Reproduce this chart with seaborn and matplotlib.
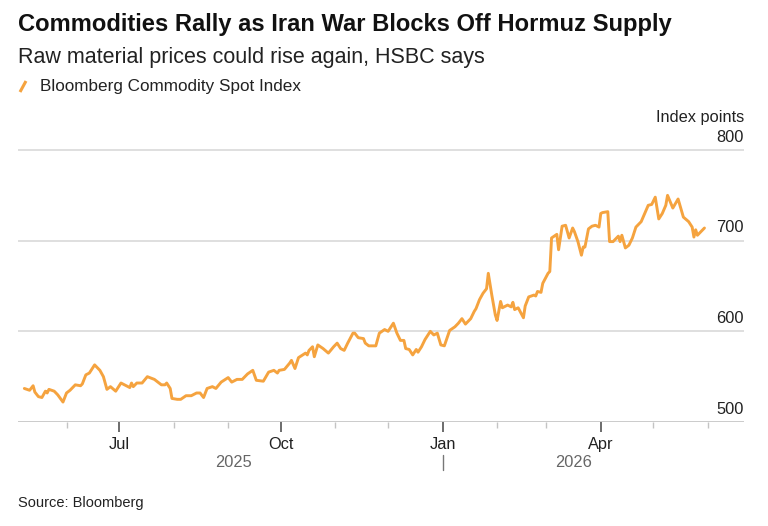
import pandas as pd
import numpy as np
import matplotlib.pyplot as plt
import matplotlib.dates as mdates
import matplotlib.transforms as mtransforms
from matplotlib.lines import Line2D
import seaborn as sns

# Bloomberg Commodity Spot Index
dates = [
    "2025-05-08", "2025-05-11", "2025-05-13", "2025-05-14", "2025-05-16", "2025-05-18", "2025-05-20",
    "2025-05-21", "2025-05-22", "2025-05-25", "2025-05-27", "2025-05-30", "2025-06-01", "2025-06-03",
    "2025-06-06", "2025-06-09", "2025-06-10", "2025-06-12", "2025-06-14", "2025-06-17", "2025-06-20",
    "2025-06-22", "2025-06-24", "2025-06-26", "2025-06-29", "2025-07-02", "2025-07-05", "2025-07-07",
    "2025-07-08", "2025-07-09", "2025-07-11", "2025-07-14", "2025-07-17", "2025-07-21", "2025-07-23",
    "2025-07-25", "2025-07-27", "2025-07-28", "2025-07-30", "2025-07-31", "2025-08-03", "2025-08-05",
    "2025-08-08", "2025-08-11", "2025-08-14", "2025-08-16", "2025-08-18", "2025-08-20", "2025-08-23",
    "2025-08-25", "2025-08-28", "2025-09-01", "2025-09-03", "2025-09-06", "2025-09-09", "2025-09-12",
    "2025-09-15", "2025-09-17", "2025-09-21", "2025-09-24", "2025-09-27", "2025-09-29", "2025-09-30",
    "2025-10-03", "2025-10-06", "2025-10-07", "2025-10-09", "2025-10-11", "2025-10-15", "2025-10-16",
    "2025-10-17", "2025-10-19", "2025-10-20", "2025-10-22", "2025-10-25", "2025-10-28", "2025-10-31",
    "2025-11-02", "2025-11-04", "2025-11-06", "2025-11-08", "2025-11-11", "2025-11-12", "2025-11-14",
    "2025-11-17", "2025-11-18", "2025-11-20", "2025-11-24", "2025-11-26", "2025-11-29", "2025-12-01",
    "2025-12-04", "2025-12-06", "2025-12-08", "2025-12-10", "2025-12-11", "2025-12-13", "2025-12-15",
    "2025-12-17", "2025-12-18", "2025-12-20", "2025-12-22", "2025-12-25", "2025-12-27", "2025-12-29",
    "2025-12-31", "2026-01-02", "2026-01-05", "2026-01-08", "2026-01-10", "2026-01-12", "2026-01-14",
    "2026-01-17", "2026-01-19", "2026-01-20", "2026-01-22", "2026-01-24", "2026-01-26", "2026-01-27",
    "2026-01-29", "2026-01-31", "2026-02-01", "2026-02-03", "2026-02-04", "2026-02-07", "2026-02-09",
    "2026-02-10", "2026-02-11", "2026-02-13", "2026-02-16", "2026-02-17", "2026-02-19", "2026-02-22",
    "2026-02-23", "2026-02-24", "2026-02-26", "2026-02-27", "2026-03-02", "2026-03-03", "2026-03-04",
    "2026-03-07", "2026-03-08", "2026-03-10", "2026-03-12", "2026-03-14", "2026-03-16", "2026-03-17",
    "2026-03-19", "2026-03-21", "2026-03-22", "2026-03-23", "2026-03-25", "2026-03-27", "2026-03-29",
    "2026-03-31", "2026-04-01", "2026-04-02", "2026-04-05", "2026-04-06", "2026-04-08", "2026-04-09",
    "2026-04-11", "2026-04-12", "2026-04-13", "2026-04-15", "2026-04-17", "2026-04-19", "2026-04-21",
    "2026-04-22", "2026-04-24", "2026-04-26", "2026-04-28", "2026-04-30", "2026-05-02", "2026-05-04",
    "2026-05-06", "2026-05-08", "2026-05-09", "2026-05-12", "2026-05-15", "2026-05-18", "2026-05-21",
    "2026-05-23", "2026-05-24", "2026-05-25", "2026-05-26", "2026-05-28", "2026-05-30",
]
index_values = [
    537, 535, 540, 533, 528, 527, 534, 532, 536, 534, 530, 522, 532, 535,
    541, 540, 542, 552, 554, 563, 557, 550, 536, 539, 534, 543, 540, 538,
    543, 539, 543, 543, 550, 547, 544, 541, 541, 543, 537, 526, 525, 525,
    529, 529, 532, 532, 527, 537, 539, 537, 544, 549, 544, 547, 547, 553,
    557, 546, 545, 555, 557, 554, 557, 558, 565, 568, 559, 571, 576, 574,
    579, 583, 572, 585, 581, 576, 583, 587, 581, 579, 587, 598, 598, 593,
    592, 587, 584, 584, 598, 602, 600, 609, 598, 590, 590, 581, 580, 574,
    580, 577, 583, 591, 600, 596, 598, 585, 584, 601, 605, 609, 614, 608,
    614, 622, 625, 635, 642, 647, 664, 640, 618, 612, 633, 626, 629, 627,
    632, 624, 626, 615, 628, 638, 640, 639, 644, 643, 653, 664, 666, 703,
    707, 690, 716, 717, 703, 714, 710, 699, 684, 693, 693, 713, 716, 717,
    715, 730, 731, 732, 699, 699, 701, 705, 699, 706, 692, 695, 703, 715,
    717, 721, 730, 739, 740, 748, 724, 730, 739, 750, 736, 746, 726, 721,
    715, 704, 712, 706, 710, 714,
]
y_ticks = [500, 600, 700, 800]
year_labels = ["2025", "2026"]

title = "Commodities Rally as Iran War Blocks Off Hormuz Supply"
subtitle = "Raw material prices could rise again, HSBC says"
series_name = "Bloomberg Commodity Spot Index"
source = "Source: Bloomberg"

ORANGE = "#F5A33F"
GRID = "#d6d6d6"

df = pd.DataFrame({"date": pd.to_datetime(dates), "value": index_values})

sns.set_theme(style="white")
plt.rcParams["font.family"] = ["Liberation Sans", "DejaVu Sans"]

W, H = 768, 526
fig = plt.figure(figsize=(W / 100, H / 100), dpi=100)
ax = fig.add_axes([18 / W, 1 - 422 / H, (744 - 18) / W, (422 - 145.5) / H])

sns.lineplot(data=df, x="date", y="value", color=ORANGE, linewidth=2.1, ax=ax, zorder=3)

ax.set_ylim(500, 805)
june1 = pd.Timestamp("2025-06-01")
ax.set_xlim(june1 - pd.Timedelta(days=27.6), june1 + pd.Timedelta(days=385.5))

for s in ax.spines.values():
    s.set_visible(False)
ax.set_xlabel("")
ax.set_ylabel("")
ax.set_yticks([])

# gridlines + labels sitting on top of them at the right edge
trans = mtransforms.blended_transform_factory(ax.transAxes, ax.transData)
for v in y_ticks:
    ax.axhline(v, color="#bdbdbd" if v == y_ticks[0] else GRID, lw=1.1, zorder=1)
    ax.annotate(str(v), xy=(1, v), xycoords=trans, xytext=(0, 6), textcoords="offset points",
                ha="right", va="baseline", fontsize=11.8, color="#222222")
ax.annotate("Index points", xy=(1, y_ticks[-1]), xycoords=trans, xytext=(0, 20),
            textcoords="offset points", ha="right", va="baseline", fontsize=11.8, color="#222222")

# months: minor ticks every month, labels every quarter
ax.xaxis.set_major_locator(mdates.MonthLocator(bymonth=[1, 4, 7, 10]))
ax.xaxis.set_major_formatter(mdates.DateFormatter("%b"))
ax.xaxis.set_minor_locator(mdates.MonthLocator())
ax.tick_params(axis="x", which="major", bottom=True, length=7, width=1.1, color="#444444",
               labelsize=11.8, labelcolor="#222222", pad=4)
ax.tick_params(axis="x", which="minor", bottom=True, length=4.5, width=1, color="#c4c4c4")

# year labels under the months
jan1 = pd.Timestamp("2026-01-01")
xtrans = ax.get_xaxis_transform()
first, last = df["date"].iloc[0], df["date"].iloc[-1]
ax.text(first + (jan1 - first) / 2, -0.148, year_labels[0], transform=xtrans,
        ha="center", va="center", fontsize=11.8, color="#666666")
ax.text(jan1 + (last - jan1) / 2, -0.148, year_labels[1], transform=xtrans,
        ha="center", va="center", fontsize=11.8, color="#666666")
ax.plot([jan1, jan1], [-0.118, -0.175], transform=xtrans, color="#777777", lw=1, clip_on=False)

# header
fig.text(18 / W, 1 - 25 / H, title, fontsize=17.1, fontweight="bold", color="#111111", va="center")
fig.text(18 / W, 1 - 57 / H, subtitle, fontsize=15.5, color="#222222", va="center")
fig.add_artist(Line2D([20 / W, 26 / W], [1 - 92 / H, 1 - 81 / H], color=ORANGE, lw=2.2,
                      solid_capstyle="butt"))
fig.text(40 / W, 1 - 86 / H, series_name, fontsize=12.3, color="#222222", va="center")
fig.text(18 / W, 1 - 503 / H, source, fontsize=10.5, color="#222222", va="center")

fig.savefig("out.png", dpi=100)
